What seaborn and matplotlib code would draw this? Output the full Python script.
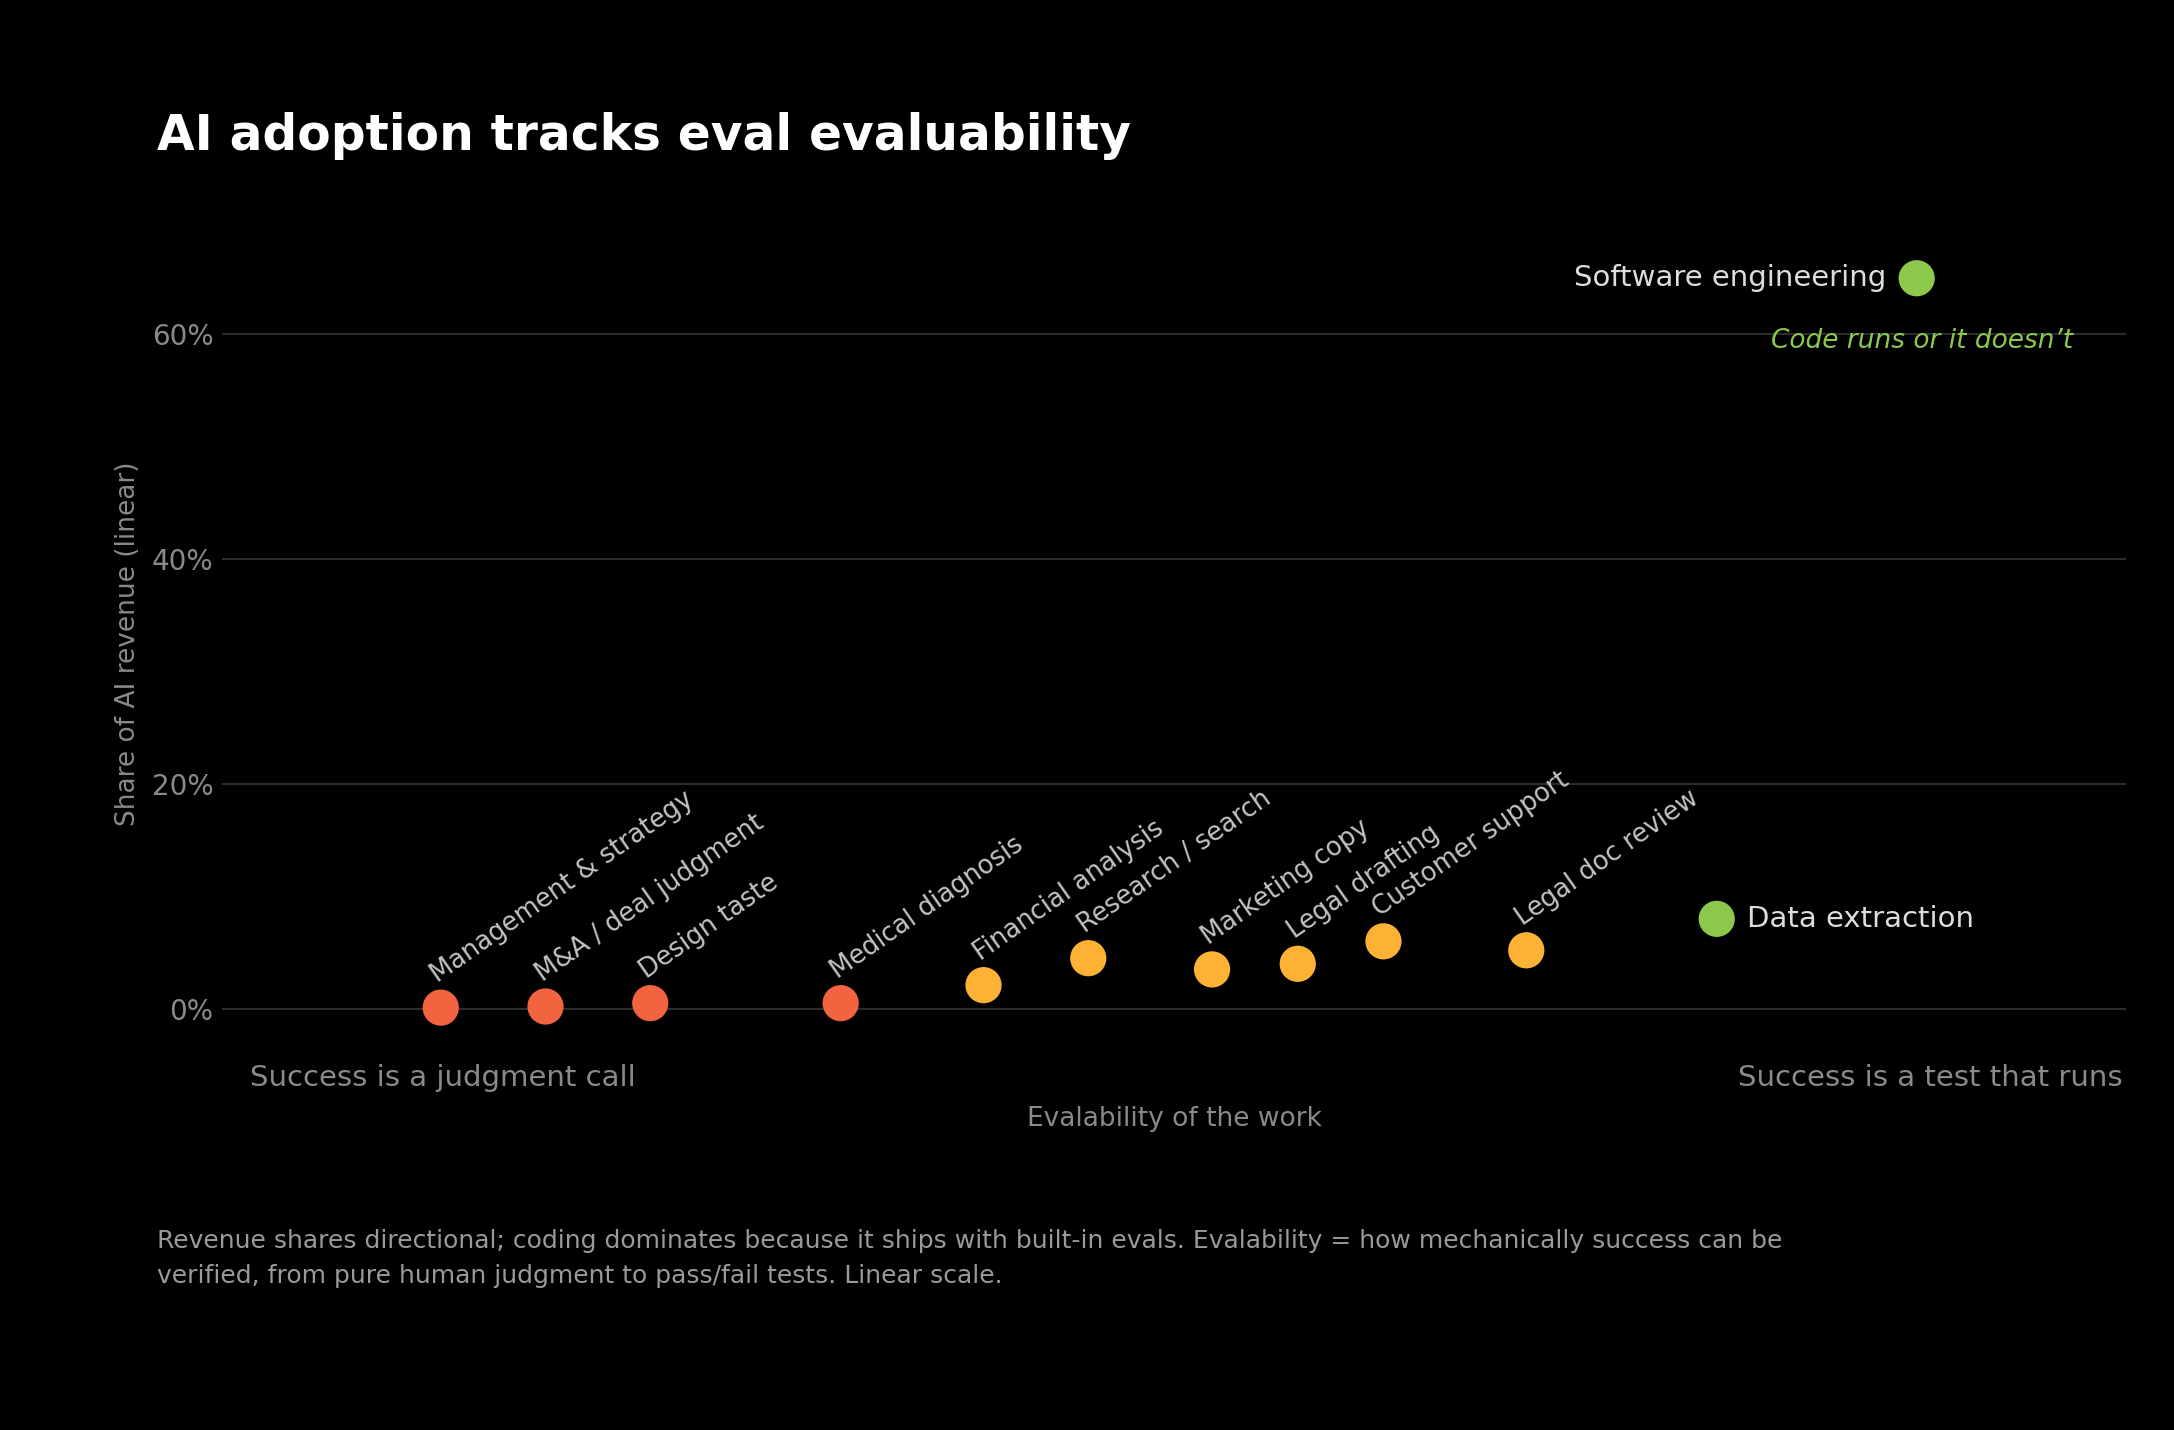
import matplotlib
matplotlib.use("Agg")
import matplotlib.pyplot as plt
import seaborn as sns
import pandas as pd

categories = ["Management & strategy", "M&A / deal judgment", "Design taste", "Medical diagnosis",
              "Financial analysis", "Research / search", "Marketing copy", "Legal drafting",
              "Customer support", "Legal doc review", "Data extraction", "Software engineering"]
evalability = [11.5, 17, 22.5, 32.5, 40, 45.5, 52, 56.5, 61, 68.5, 78.5, 89]
share = [0.1, 0.2, 0.5, 0.5, 2.1, 4.5, 3.5, 4.0, 6.0, 5.2, 8.0, 65.0]
group = ["low"] * 4 + ["mid"] * 6 + ["high"] * 2
palette = {"low": "#F26440", "mid": "#FDB235", "high": "#8CC84B"}

df = pd.DataFrame({"cat": categories, "x": evalability, "y": share, "g": group})

sns.set_theme(style="dark")
plt.rcParams["font.family"] = ["DejaVu Sans"]
fig = plt.figure(figsize=(21.74, 14.30), dpi=100, facecolor="black")
ax = fig.add_axes([0.102, 0.271, 0.876, 0.558])
ax.set_facecolor("black")
sns.scatterplot(data=df, x="x", y="y", hue="g", palette=palette, s=680, edgecolor="none",
                legend=False, ax=ax, zorder=3)
ax.set_xlim(0, 100)
ax.set_ylim(-3, 68)
ax.set_yticks([0, 20, 40, 60])
ax.set_yticklabels(["0%", "20%", "40%", "60%"], color="#8a8a8a", fontsize=20)
ax.set_xticks([])
ax.tick_params(axis="y", length=0, pad=6)
ax.grid(axis="y", color="#2c2c2c", linewidth=1.5)
ax.grid(axis="x", visible=False)
for s in ax.spines.values():
    s.set_visible(False)
ax.set_ylabel("Share of AI revenue (linear)", color="#8a8a8a", fontsize=19, labelpad=8)
ax.set_xlabel("Evalability of the work", color="#8a8a8a", fontsize=19, labelpad=46)

for c, x, y in zip(categories[:10], evalability[:10], share[:10]):
    ax.annotate(c, (x, y), xytext=(0, 14), textcoords="offset points", rotation=35,
                rotation_mode="anchor", ha="left", va="bottom", color="#c4c4c4", fontsize=18.5)
ax.annotate("Data extraction", (evalability[10], share[10]), xytext=(22, 0), textcoords="offset points",
            ha="left", va="center", color="#dddddd", fontsize=21)
ax.annotate("Software engineering", (evalability[11], share[11]), xytext=(-22, 0), textcoords="offset points",
            ha="right", va="center", color="#dddddd", fontsize=21)
ax.annotate("Code runs or it doesn\u2019t", (evalability[11], share[11]), xytext=(113, -45),
            textcoords="offset points", ha="right", va="center", color="#8CC84B", fontsize=19, style="italic")

ax.text(0.015, -0.045, "Success is a judgment call", transform=ax.transAxes, ha="left", va="center",
        color="#8a8a8a", fontsize=21)
ax.text(0.998, -0.045, "Success is a test that runs", transform=ax.transAxes, ha="right", va="center",
        color="#8a8a8a", fontsize=21)

fig.text(0.072, 0.905, "AI adoption tracks eval evaluability", color="white", fontsize=35,
         fontweight="bold", ha="left", va="center")
fig.text(0.072, 0.12, "Revenue shares directional; coding dominates because it ships with built-in evals. "
         "Evalability = how mechanically success can be\nverified, from pure human judgment to pass/fail tests. Linear scale.",
         color="#9a9a9a", fontsize=18, ha="left", va="center", linespacing=1.55)

fig.savefig("out.png", dpi=100, facecolor="black")
